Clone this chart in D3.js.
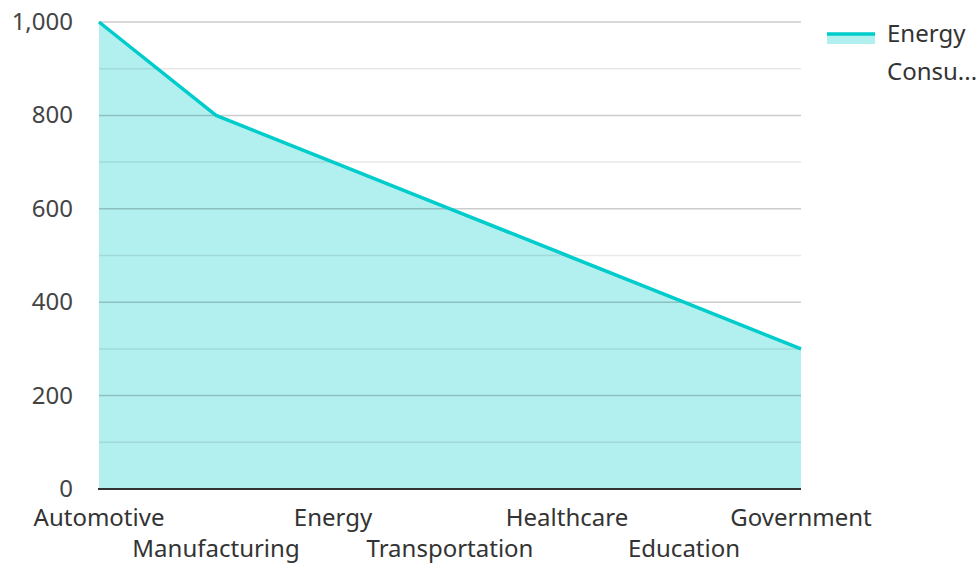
<!DOCTYPE html>
<html><head><meta charset="utf-8">
<script src="https://cdn.jsdelivr.net/npm/d3@7"></script>
<style>body{margin:0;background:#fff;}svg{display:block;font-family:"Noto Sans",sans-serif;}</style>
</head><body>
<svg id="c" width="980" height="563"></svg>
<script>
const categories = ["Automotive","Manufacturing","Energy","Transportation","Healthcare","Education","Government"];
const values = [1000, 800, 700, 600, 500, 400, 300];
const seriesName = "Energy Consumption";
const yTicks = [0, 200, 400, 600, 800, 1000];
const yMinor = [100, 300, 500, 700, 900];

const svg = d3.select("#c");
const m = {l: 99, r: 801, t: 22, b: 489};
const x = d3.scalePoint().domain(categories).range([m.l, m.r]);
const y = d3.scaleLinear().domain([0, 1000]).range([m.b, m.t]);

const data = categories.map((c, i) => ({c, v: values[i]}));

// area
svg.append("path").datum(data)
  .attr("fill", "#b2efef")
  .attr("d", d3.area().x(d => x(d.c)).y0(y(0)).y1(d => y(d.v)));

// grid
svg.append("g").selectAll("line").data(yMinor).join("line")
  .attr("x1", m.l).attr("x2", m.r).attr("y1", d => y(d)).attr("y2", d => y(d))
  .attr("stroke", "#000").attr("stroke-opacity", 0.09).attr("stroke-width", 1.5);
svg.append("g").selectAll("line").data(yTicks.filter(d => d > 0)).join("line")
  .attr("x1", m.l).attr("x2", m.r).attr("y1", d => y(d)).attr("y2", d => y(d))
  .attr("stroke", "#000").attr("stroke-opacity", 0.2).attr("stroke-width", 1.5);

// line
svg.append("path").datum(data)
  .attr("fill", "none").attr("stroke", "#00cccc").attr("stroke-width", 3.5)
  .attr("stroke-linejoin", "round")
  .attr("d", d3.line().x(d => x(d.c)).y(d => y(d.v)));

// x axis line
svg.append("line").attr("x1", m.l - 1).attr("x2", m.r).attr("y1", y(0)).attr("y2", y(0))
  .attr("stroke", "#333").attr("stroke-width", 2);

// y labels
svg.append("g").selectAll("text").data(yTicks).join("text")
  .attr("x", 73).attr("y", d => y(d) + 8)
  .attr("text-anchor", "end").attr("font-size", 24).attr("fill", "#444")
  .text(d => d3.format(",")(d));

// x labels
svg.append("g").selectAll("text").data(categories).join("text")
  .attr("x", d => x(d)).attr("y", (d, i) => i % 2 === 0 ? 526 : 557)
  .attr("text-anchor", "middle").attr("font-size", 24).attr("fill", "#333")
  .text(d => d);

// legend
const lg = svg.append("g");
lg.append("rect").attr("x", 827).attr("y", 34).attr("width", 48).attr("height", 10).attr("fill", "#b2efef");
lg.append("line").attr("x1", 827).attr("x2", 875).attr("y1", 34).attr("y2", 34)
  .attr("stroke", "#00cccc").attr("stroke-width", 3.5);
lg.append("text").attr("x", 887).attr("y", 42).attr("font-size", 24).attr("fill", "#333").text("Energy");
lg.append("text").attr("x", 887).attr("y", 80).attr("font-size", 24).attr("fill", "#333").text("Consu...")
  .append("title").text(seriesName);
</script>
</body></html>
